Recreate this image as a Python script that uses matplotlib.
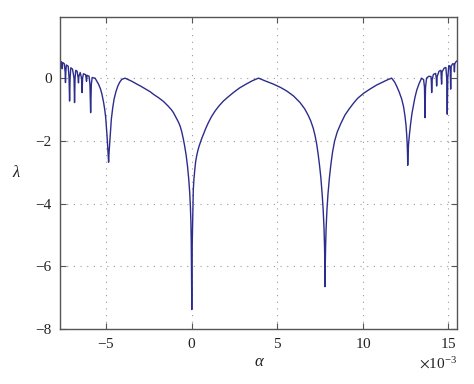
import numpy as np
import matplotlib
matplotlib.use("Agg")
import matplotlib.pyplot as plt
from matplotlib.ticker import ScalarFormatter

plt.rcParams['mathtext.fontset'] = 'stix'
plt.rcParams['font.family'] = ['Liberation Serif', 'DejaVu Serif']

# alpha values are in units of 1e-3
left_fringe_a = [-7.72, -7.62, -7.57, -7.55, -7.45, -7.40, -7.38, -7.36, -7.33, -7.22, -7.17, -7.14, -7.11,
                 -7.07, -6.97, -6.88, -6.85, -6.82, -6.78, -6.70, -6.64, -6.62, -6.60, -6.52, -6.44, -6.41,
                 -6.38, -6.33, -6.20, -6.15, -6.12, -6.00, -5.95, -5.91, -5.87, -5.82, -5.75]
left_fringe_l = [0.56, 0.52, 0.30, 0.50, 0.46, 0.20, -0.14, 0.20, 0.42, 0.38, 0.00, -0.73, 0.00,
                 0.33, 0.29, 0.00, -0.78, 0.00, 0.25, 0.22, 0.00, -0.15, 0.05, 0.18, 0.00, -0.46,
                 0.00, 0.14, 0.11, -0.10, 0.09, 0.06, -0.20, -1.10, -0.20, 0.02, 0.01]

arch_a_a = [-5.65, -5.45, -5.33, -5.25, -5.16, -5.09, -5.03, -4.99, -4.95, -4.92, -4.89, -4.86, -4.83,
            -4.80, -4.77, -4.73, -4.70, -4.62, -4.54, -4.43, -4.32, -4.20, -4.09]
arch_a_l = [0.00, -0.19, -0.35, -0.51, -0.75, -0.99, -1.25, -1.53, -1.85, -2.10, -2.40, -2.68, -2.35,
            -2.10, -1.85, -1.55, -1.31, -0.95, -0.67, -0.43, -0.25, -0.12, -0.04]

arch_b_a = [-3.90, -3.70, -3.50, -3.21, -3.00, -2.75, -2.44, -2.20, -1.95, -1.66, -1.40, -1.20, -1.07,
            -0.90, -0.78, -0.68, -0.58, -0.49, -0.42, -0.33, -0.25, -0.18, -0.12, -0.08, -0.05, -0.03,
            -0.015, -0.005, 0.0, 0.005, 0.015, 0.03, 0.05, 0.07, 0.09, 0.13, 0.18, 0.23, 0.29, 0.36,
            0.44, 0.58, 0.68, 0.82, 0.97, 1.15, 1.36, 1.60, 1.85, 2.10, 2.43, 2.80, 3.21, 3.55]
arch_b_l = [0.00, -0.05, -0.10, -0.19, -0.25, -0.33, -0.43, -0.53, -0.62, -0.74, -0.88, -1.00, -1.10,
            -1.28, -1.40, -1.53, -1.72, -1.95, -2.15, -2.45, -2.80, -3.20, -3.65, -4.10, -4.60, -5.20,
            -6.00, -6.80, -7.38, -6.80, -6.00, -5.20, -4.60, -4.00, -3.55, -3.20, -2.90, -2.65, -2.47, -2.30,
            -2.15, -1.93, -1.79, -1.60, -1.42, -1.23, -1.05, -0.88, -0.73, -0.61, -0.46, -0.31, -0.18, -0.08]

arch_c_a = [3.90, 4.30, 4.77, 5.20, 5.55, 5.95, 6.33, 6.60, 6.80, 6.95, 7.10, 7.20, 7.30, 7.38, 7.46,
            7.54, 7.62, 7.68, 7.73, 7.76, 7.78, 7.79, 7.80, 7.82, 7.85, 7.90, 7.96, 8.04, 8.13, 8.23,
            8.35, 8.50, 8.70, 8.95, 9.20, 9.45, 9.70, 10.05, 10.41, 10.80, 11.19, 11.45]
arch_c_l = [0.00, -0.09, -0.19, -0.30, -0.41, -0.57, -0.78, -0.98, -1.18, -1.36, -1.60, -1.82, -2.10,
            -2.40, -2.75, -3.15, -3.70, -4.20, -4.80, -5.40, -6.00, -6.65, -6.00, -5.40, -4.80, -4.20,
            -3.70, -3.20, -2.75, -2.35, -2.00, -1.72, -1.46, -1.18, -0.98, -0.80, -0.64, -0.48, -0.35,
            -0.22, -0.12, -0.05]

arch_d_a = [11.68, 11.85, 11.97, 12.12, 12.27, 12.38, 12.46, 12.52, 12.56, 12.59, 12.61, 12.62, 12.64,
            12.67, 12.72, 12.79, 12.87, 12.96, 13.04, 13.15, 13.28]
arch_d_l = [0.00, -0.12, -0.25, -0.44, -0.67, -0.92, -1.21, -1.50, -1.80, -2.10, -2.45, -2.78, -2.40,
            -2.10, -1.80, -1.45, -1.12, -0.85, -0.62, -0.38, -0.18]

right_fringe_a = [13.43, 13.55, 13.60, 13.63, 13.66, 13.72, 13.85, 13.98, 14.00, 14.02, 14.05, 14.12,
                  14.25, 14.29, 14.31, 14.34, 14.45, 14.56, 14.60, 14.63, 14.75, 14.85, 14.90, 14.93,
                  14.96, 15.02, 15.10, 15.13, 15.16, 15.25, 15.32, 15.35, 15.37, 15.45, 15.52]
right_fringe_l = [0.00, -0.05, -0.30, -1.26, -0.30, 0.00, 0.06, 0.05, -0.10, -0.46, -0.05, 0.12,
                  0.15, 0.00, -0.25, 0.05, 0.22, 0.25, -0.19, 0.20, 0.32, 0.34, 0.00, -1.15,
                  0.00, 0.40, 0.38, -0.35, 0.38, 0.46, 0.45, 0.20, 0.46, 0.53, 0.56]

x_ticks = [-5, 0, 5, 10, 15]
y_ticks = [-8, -6, -4, -2, 0]

alpha = np.concatenate([left_fringe_a, arch_a_a, arch_b_a, arch_c_a, arch_d_a, right_fringe_a]) * 1e-3
lam = np.concatenate([left_fringe_l, arch_a_l, arch_b_l, arch_c_l, arch_d_l, right_fringe_l])

fig = plt.figure(figsize=(4.74, 3.84), dpi=100)
ax = fig.add_axes([60/474, 1 - 329/384, (457-60)/474, (329-17)/384])

ax.plot(alpha, lam, color='#2c2c8c', linewidth=1.0)

ax.set_xlim(-7.7e-3, 15.5e-3)
ax.set_ylim(-8, 1.95)
ax.set_xticks(np.array(x_ticks) * 1e-3)
ax.set_yticks(y_ticks)

fmt = ScalarFormatter(useMathText=True)
fmt.set_powerlimits((-3, -3))
ax.xaxis.set_major_formatter(fmt)

ax.grid(True, color='#9a9a9a', linestyle=(0, (1, 5)), linewidth=0.8)
for s in ax.spines.values():
    s.set_color('#555555')
    s.set_linewidth(1.0)
ax.tick_params(direction='in', length=4, width=0.8, color='#555555', labelsize=11,
               labelcolor='#222222', top=True, right=True, pad=6)
ax.xaxis.get_offset_text().set_fontsize(11)
ax.xaxis.get_offset_text().set_color('#222222')

ax.set_xlabel('α', fontsize=12, fontstyle='italic', color='#222222', labelpad=2)
ax.set_ylabel('λ', fontsize=12, fontstyle='italic', color='#222222', rotation=0, labelpad=14, va='center')

fig.savefig('out.png', dpi=100)
